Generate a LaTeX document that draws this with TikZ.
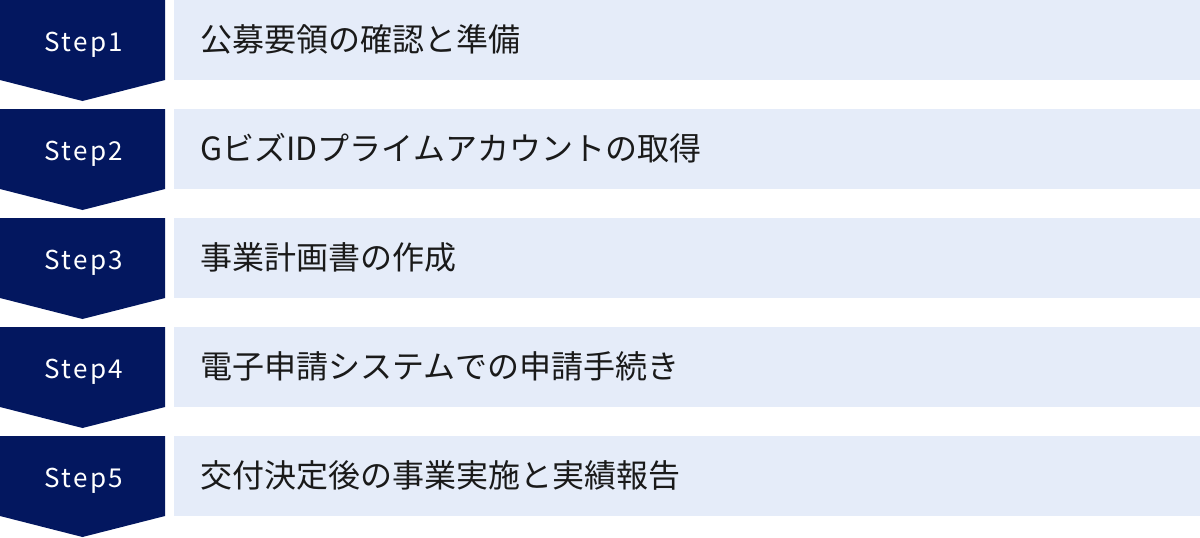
\documentclass[tikz,border=0pt]{standalone}
\usepackage{fontspec}
\setmainfont{Noto Sans CJK JP}
\newfontfamily\steplabelfont[LetterSpace=9]{Noto Sans CJK JP}
\definecolor{navy}{HTML}{03175F}
\definecolor{paleblue}{HTML}{E5ECF9}
\definecolor{txt}{HTML}{1A1A1A}
\begin{document}
\begin{tikzpicture}[x=1pt,y=-1pt,
  stepshape/.style={fill=navy,draw=none},
  bar/.style={fill=paleblue,draw=none},
  steplabel/.style={text=white,font=\steplabelfont\fontsize{26}{30}\selectfont,inner sep=0pt,anchor=base},
  barlabel/.style={text=txt,font=\fontsize{32}{36}\selectfont,inner sep=0pt,anchor=base west}]
\useasboundingbox (0,0) rectangle (1200,538);
\foreach \i/\t in {0/公募要領の確認と準備,1/GビズIDプライムアカウントの取得,2/事業計画書の作成,3/電子申請システムでの申請手続き,4/交付決定後の事業実施と実績報告}{
  \pgfmathsetmacro{\y}{\i*109}
  \pgfmathtruncatemacro{\n}{\i+1}
  \fill[stepshape] (0,\y) -- (165,\y) -- (165,\y+80) -- (82.5,\y+101) -- (0,\y+80) -- cycle;
  \fill[bar] (174,\y) rectangle (1200,\y+80);
  \node[steplabel] (s\n) at (84,\y+51) {Step\n};
  \node[barlabel] (t\n) at (200,\y+51) {\t};
}
\end{tikzpicture}
\end{document}
